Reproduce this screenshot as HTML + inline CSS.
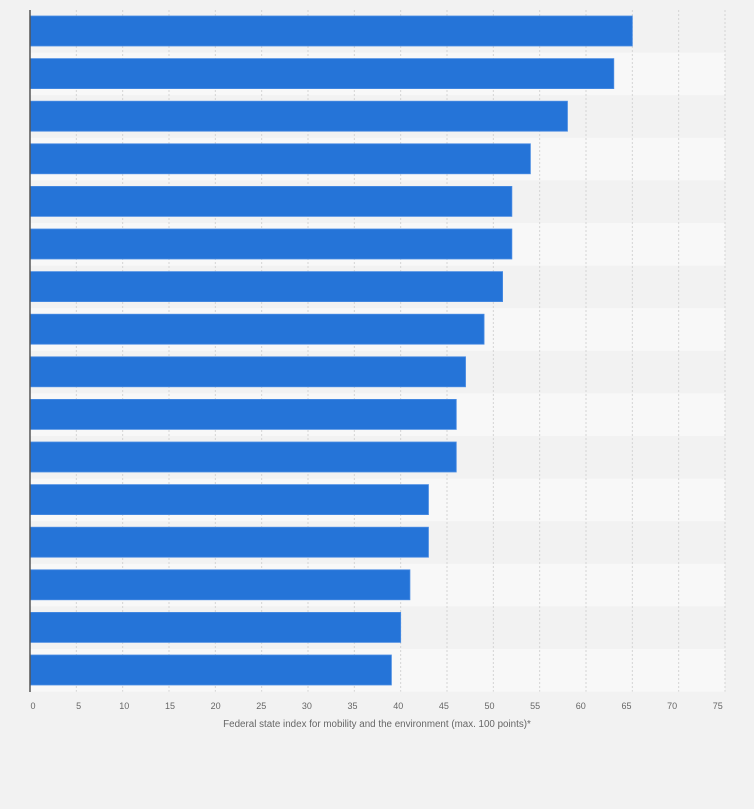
<!DOCTYPE html>
<html><head><meta charset="utf-8">
<style>
html,body{margin:0;padding:0;background:#f2f2f2;}
svg{display:block;font-family:"Liberation Sans",sans-serif;}
</style></head>
<body>
<svg id="chart" width="754" height="809" viewBox="0 0 754 809" xmlns="http://www.w3.org/2000/svg">
<rect x="0" y="0" width="754" height="809" fill="#f2f2f2"/>
<g id="stripes"></g>
<g id="grid"></g>
<g id="bars"></g>
<g id="ticks"></g>
<line x1="30" y1="10" x2="30" y2="692" stroke="#555" stroke-width="1.5"/>
<text x="377" y="727" text-anchor="middle" font-size="9.8" fill="#666">Federal state index for mobility and the environment (max. 100 points)*</text>
</svg>
<script>
const values = [65, 63, 58, 54, 52, 52, 51, 49, 47, 46, 46, 43, 43, 41, 40, 39];
const tickValues = [0, 5, 10, 15, 20, 25, 30, 35, 40, 45, 50, 55, 60, 65, 70, 75];
const NS = 'http://www.w3.org/2000/svg';
const x0 = 30, x1 = 725, topY = 10, rowH = 42.6, maxV = 75;
function xs(v){ return x0 + (x1 - x0) * v / maxV; }
function labelX(v){ return 33 + 9.13 * v; }
function ys(i){ return topY + rowH * i; }
function mk(tag, attrs, parent){
  const e = document.createElementNS(NS, tag);
  for (const k in attrs) e.setAttribute(k, attrs[k]);
  parent.appendChild(e); return e;
}
const stripes = document.getElementById('stripes');
const grid = document.getElementById('grid');
const bars = document.getElementById('bars');
const ticks = document.getElementById('ticks');
values.forEach((v, i) => {
  if (i % 2 === 1) {
    const s = mk('rect', {x: x0, y: ys(i), width: x1 - x0, height: rowH, fill: '#f8f8f8'}, stripes);
    
    
  }
});
tickValues.forEach(t => {
  if (t > 0) {
    const l = mk('line', {x1: xs(t), x2: xs(t), y1: topY, y2: ys(values.length), stroke: '#d4d4d4', 'stroke-width': 1, 'stroke-dasharray': '2,2'}, grid);
    
    
  }
  const tx = mk('text', {x: labelX(t), y: 709, 'text-anchor': 'middle', 'font-size': 9, fill: '#666'}, ticks);
  tx.textContent = t;
  
  
});
values.forEach((v, i) => {
  const b = mk('rect', {x: x0, y: ys(i) + 6, width: xs(v) - x0, height: 30, fill: '#2574d8', stroke: '#4a8ce3', 'stroke-width': 0.8}, bars);
  
  
});
</script>
</body></html>
